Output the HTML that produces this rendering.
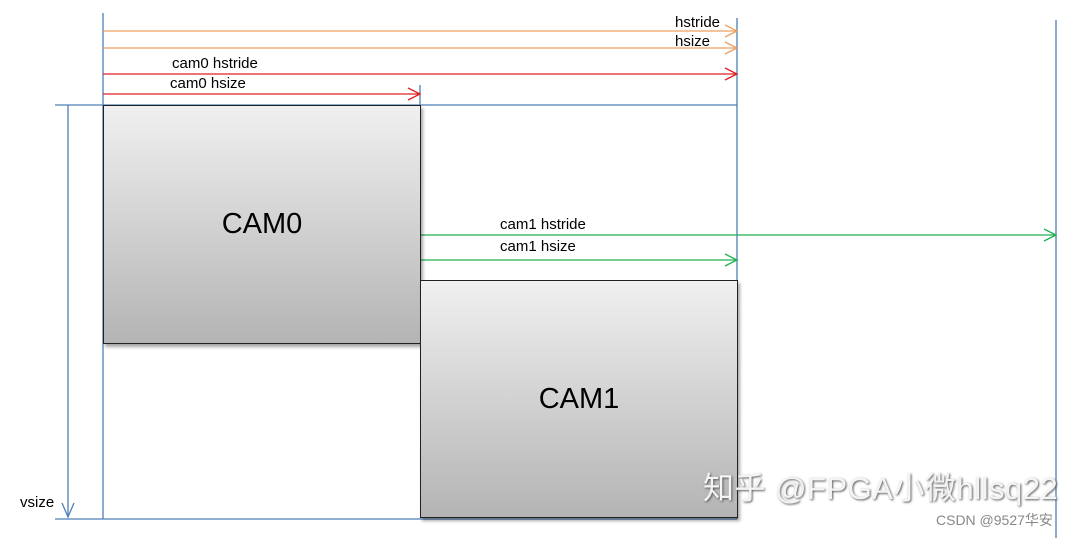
<!DOCTYPE html>
<html><head><meta charset="utf-8"><style>
body{margin:0;background:#fff;width:1083px;height:538px;overflow:hidden;position:relative;font-family:"Liberation Sans","Noto Sans CJK SC",sans-serif}
.t{position:absolute;font-size:15px;color:#000;line-height:1}
.box{position:absolute;border:1px solid #222;background:linear-gradient(#f0f0f0,#b4b4b4);box-shadow:2px 3px 3px rgba(0,0,0,.35);display:flex;align-items:center;justify-content:center;font-size:29px}
</style></head><body>
<svg width="1083" height="538" style="position:absolute;left:0;top:0">
<g stroke="#4f7fb5" stroke-width="1.3" fill="none">
<line x1="103" y1="13" x2="103" y2="519"/>
<line x1="737" y1="18" x2="737" y2="519"/>
<line x1="1056" y1="20" x2="1056" y2="538"/>
<line x1="420" y1="85" x2="420" y2="105"/>
<line x1="55" y1="105" x2="737" y2="105"/>
<line x1="55" y1="519" x2="737" y2="519"/>
<line x1="68" y1="105" x2="68" y2="517"/>
<polyline points="62,503 68,517 74,503"/>
</g>
<g fill="none" stroke-width="1.3">
<g stroke="#f0a060"><line x1="103" y1="31" x2="737" y2="31"/><polyline points="725,25 737,31 725,37"/>
<line x1="103" y1="48" x2="737" y2="48"/><polyline points="725,42 737,48 725,54"/></g>
<g stroke="#e02020"><line x1="103" y1="74" x2="737" y2="74"/><polyline points="725,68 737,74 725,80"/>
<line x1="103" y1="94" x2="420" y2="94"/><polyline points="408,88 420,94 408,100"/></g>
<g stroke="#20b050"><line x1="420" y1="235" x2="1056" y2="235"/><polyline points="1044,229 1056,235 1044,241"/>
<line x1="420" y1="260" x2="737" y2="260"/><polyline points="725,254 737,260 725,266"/></g>
</g>
</svg>
<div class="box" style="left:103px;top:105px;width:316px;height:237px">CAM0</div>
<div class="box" style="left:420px;top:280px;width:316px;height:236px">CAM1</div>
<div class="t" style="left:675px;top:15px">hstride</div>
<div class="t" style="left:675px;top:34px">hsize</div>
<div class="t" style="left:172px;top:56px">cam0 hstride</div>
<div class="t" style="left:170px;top:76px">cam0 hsize</div>
<div class="t" style="left:500px;top:217px">cam1 hstride</div>
<div class="t" style="left:500px;top:239px">cam1 hsize</div>
<div class="t" style="left:20px;top:495px">vsize</div>
<div class="t" style="left:703px;top:473px;font-size:31px;letter-spacing:0.5px;color:#f4f4f4;text-shadow:1px 1px 2px #555">知乎 @FPGA小微hllsq22</div>
<div class="t" style="left:936px;top:513px;font-size:14px;color:#888">CSDN @9527华安</div>
</body></html>
